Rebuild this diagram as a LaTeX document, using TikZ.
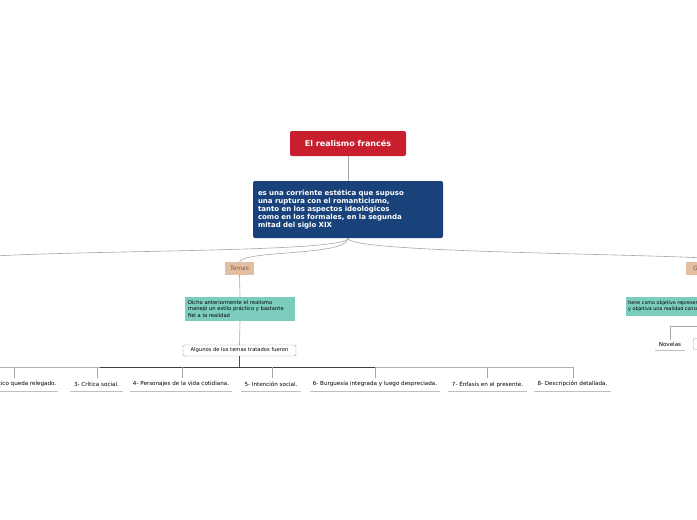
\documentclass[tikz,border=0pt]{standalone}
\usepackage{fontspec}
\setmainfont{DejaVu Sans}
\begin{document}
\begin{tikzpicture}[x=1pt,y=-1pt,
 conn/.style={draw=gray!70,line width=0.6pt},
 item/.style={font=\fontsize{5.6}{6.5}\selectfont,inner sep=1.5pt,anchor=center},
 uline/.style={draw=gray!50,line width=0.8pt}]
\useasboundingbox (0,0) rectangle (697,520);
\clip (0,0) rectangle (697,520);
% title
\node[fill={rgb,255:red,200;green,30;blue,45},text=white,rounded corners=2pt,minimum width=116pt,minimum height=25pt,font=\bfseries\fontsize{8}{9}\selectfont] (t) at (348,143.5) {El realismo francés};
\node[fill={rgb,255:red,26;green,66;blue,122},text=white,rounded corners=2pt,minimum width=190pt,minimum height=57pt,font=\bfseries\fontsize{7}{8}\selectfont,align=left,text width=180pt] (b) at (348,209.5) {es una corriente estética que supuso\\una ruptura con el romanticismo,\\ tanto en los aspectos ideológicos\\como en los formales, en la segunda\\mitad del siglo XIX};
\draw[conn] (t.south) -- (b.north);
% tags
\node[fill={rgb,255:red,228;green,190;blue,160},text={rgb,255:red,130;green,90;blue,70},minimum width=29pt,minimum height=13pt,inner sep=1pt,font=\fontsize{6}{7}\selectfont] (temas) at (239.5,268.5) {Temas};
\node[fill={rgb,255:red,228;green,190;blue,160},text={rgb,255:red,130;green,90;blue,70},minimum width=22pt,minimum height=13pt,inner sep=1pt,anchor=west,font=\fontsize{6}{7}\selectfont] (ge) at (686,268.5) {Ge\rlap{neros}};
\coordinate (lo) at (-5,256);
\coordinate (ro) at (705,258);
\draw[conn] (b.south) .. controls (348,252) and (100,250) .. (lo);
\draw[conn] (b.south) .. controls (348,256) and (245,250) .. (temas.north);
\draw[conn] (b.south) .. controls (348,252) and (600,253) .. (ro);
% green
\node[fill={rgb,255:red,124;green,205;blue,190},minimum width=110pt,minimum height=24pt,inner sep=2pt,align=left,text width=104pt,font=\fontsize{5.2}{6.2}\selectfont] (g) at (240,309) {Dicho anteriormente el realismo\\manejó un estilo práctico y bastante\\fiel a la realidad};
\draw[conn] (temas.south) -- (g.north);
\node[draw=gray!80,fill=white,rounded corners=1.5pt,minimum width=113pt,minimum height=11pt,inner sep=1pt,font=\fontsize{5.2}{6}\selectfont] (al) at (239.5,350.5) {Algunos de los temas tratados fueron};
\draw[conn] (g.south) -- (al.north);
\node[fill={rgb,255:red,124;green,205;blue,190},minimum height=19pt,inner sep=2pt,anchor=west,align=left,font=\fontsize{4.8}{5.8}\selectfont] (g2) at (626,306.5) {tiene como objetivo representar\\y objetiva una realidad concreta};
\draw[conn] (ge.south) -- (ge.south |- g2.north);
\node[item] (nov) at (670,344) {Novelas};
\draw[uline] (655,350) -- (685,350);
\node[draw=gray!80,fill=white,rounded corners=1.5pt,minimum width=20pt,minimum height=11pt,anchor=west] (nb) at (693,344) {};
\draw[conn] (nov.north) -- (670,326) -- (705,326);
% items
\coordinate (bar) at (239.5,367);
\draw[draw=gray!60!black,line width=1pt] (al.south) -- (bar);
\node[item,anchor=east] (i2) at (58,384) {2- El aspecto romántico queda relegado.};
\draw[uline] (0,391) -- (58,391);
\foreach \n/\x/\l/\w/\t in {i3/96.5/70/123/3- Crítica social.,i4/181/130/232/4- Personajes de la vida cotidiana.,i5/271/241/301/5- Intención social.,i6/375/310/440/6- Burguesía integrada y luego despreciada.,i7/487.5/448/527/7- Énfasis en el presente.,i8/572.5/534/611/8- Descripción detallada.}{
 \node[item] (\n) at (\x,384) {\t};
 \draw[uline] (\l,391) -- (\w,391);
}
\draw[draw=gray!60,line width=0.8pt] (0,367) -- (573,367);
\draw[draw=gray!50!black,line width=1pt] (100,367) -- (375,367);
\foreach \n/\x in {i2/14,i3/97,i4/182,i5/272,i6/375,i7/487,i8/573}{
 \draw[conn] (\x,367) -- (\x,378);
}
\end{tikzpicture}
\end{document}
